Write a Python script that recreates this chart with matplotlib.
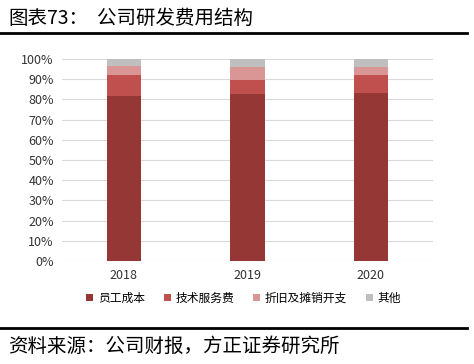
import numpy as np
import matplotlib.pyplot as plt
from matplotlib.lines import Line2D
from matplotlib.ticker import PercentFormatter

plt.rcParams['font.family'] = ['Noto Sans CJK SC', 'DejaVu Sans']

years = ['2018', '2019', '2020']
series = ['员工成本', '技术服务费', '折旧及摊销开支', '其他']
staff = [81.7, 82.5, 83.2]
tech = [10.4, 7.3, 8.9]
depr = [4.4, 6.2, 4.1]
other = [3.5, 4.0, 3.8]
colors = ['#953735', '#C0504D', '#D99694', '#BFBFBF']

fig = plt.figure(figsize=(4.74, 3.64), dpi=100)
ax = fig.add_axes([0.131, 0.283, 0.782, 0.555])

xs = np.arange(len(years))
bottom = np.zeros(len(years))
for name, vals, c in zip(series, [staff, tech, depr, other], colors):
    ax.bar(xs, vals, 0.28, bottom=bottom, color=c, label=name, zorder=3)
    bottom += np.array(vals)

ax.set_xlim(-0.5, 2.5)
ax.set_ylim(0, 100)
ax.set_yticks(np.arange(0, 101, 10))
ax.yaxis.set_major_formatter(PercentFormatter(decimals=0))
ax.set_xticks(xs)
ax.set_xticklabels(years)
ax.tick_params(axis='both', length=0, labelsize=9, colors='#333333', pad=6)
ax.grid(True, axis='y', color='#D9D9D9', lw=0.8, zorder=0)
for s in ax.spines.values():
    s.set_visible(False)

ax.legend(loc='upper center', bbox_to_anchor=(0.49, -0.1), ncol=4, frameon=False,
          fontsize=8.5, handlelength=0.6, handleheight=0.6, handletextpad=0.4,
          columnspacing=1.6)

fig.text(0.017, 0.948, '图表73：', fontsize=14, va='center', ha='left')
fig.text(0.205, 0.948, '公司研发费用结构', fontsize=14, va='center', ha='left')
fig.add_artist(Line2D([0.0, 0.985], [0.909, 0.909], color='black', lw=2))
fig.add_artist(Line2D([0.0, 0.985], [0.099, 0.099], color='black', lw=2))
fig.text(0.017, 0.047, '资料来源：公司财报，方正证券研究所', fontsize=14, style='italic',
         va='center', ha='left')

fig.savefig('out.png', dpi=100)
